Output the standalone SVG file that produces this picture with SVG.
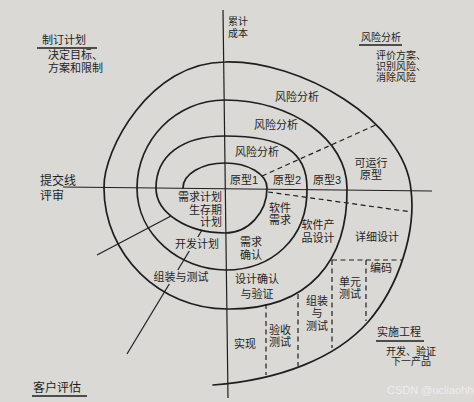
<svg xmlns="http://www.w3.org/2000/svg" width="474" height="402" viewBox="0 0 474 402">
<style>
text{font-family:"Liberation Sans","Noto Sans CJK SC",sans-serif;fill:#1e1e1e;font-size:11px}
.s10{font-size:10px}
.s12{font-size:12px}
.mid{text-anchor:middle}
.end{text-anchor:end}
.ln{fill:none;stroke:#1e1e1e;stroke-width:1.2}
.sp{fill:none;stroke:#1e1e1e;stroke-width:1.7;stroke-linecap:round}
.ds{fill:none;stroke:#1e1e1e;stroke-width:1.2;stroke-dasharray:5 3.5}
.ul{fill:none;stroke:#1e1e1e;stroke-width:1.6}
.wm{font-family:"Liberation Sans",sans-serif;fill:#f2f2f2;font-size:11px;opacity:.85}
</style>
<rect width="474" height="402" fill="#dad9d5"/>
<g id="connectors">
<line class="ln" x1="223" y1="10" x2="228" y2="398"/>
<line class="ln" x1="63" y1="187" x2="432" y2="191"/>
<path class="sp" d="M183,188 A42,25 0 0 1 225,163 A42,25 0 0 1 267,188 A42,45 0 0 1 225,233 A69,45 0 0 1 156,188 C156,155.8 182,136 225,136 C283,136 307,152 307,188 C308,240 270,270 226,270 C180,270 137,235 137,188 C137,140 176,100 225,100 C292,100 347,140 347,188 C348,260 310,310 227,309 C160,309 104,255 104,188 C103,150 150,62 225,62 C300,60 405,120 411,190 C416,230 400,285 368,322 C336,358 280,380 213,385"/>
<line class="ln" x1="97" y1="255" x2="171" y2="216"/>
<line class="ln" x1="202" y1="230" x2="197.8" y2="237"/>
<line class="ln" x1="189.3" y1="251" x2="177.8" y2="270"/>
<line class="ln" x1="169.3" y1="284" x2="127" y2="354"/>
<line class="ds" x1="262" y1="176" x2="378" y2="124"/>
<line class="ds" x1="268" y1="192" x2="412" y2="212"/>
<line class="ds" x1="266" y1="304" x2="266" y2="375"/>
<line class="ds" x1="298" y1="294" x2="298" y2="366"/>
<line class="ds" x1="332" y1="260" x2="332" y2="348"/>
<line class="ds" x1="366" y1="260" x2="366" y2="321"/>
<line class="ds" x1="332" y1="260" x2="402" y2="260"/>
</g>
<g id="plan">
<text x="42" y="44">制订计划</text>
<line class="ul" x1="37" y1="48" x2="97" y2="48"/>
<text x="48" y="59">决定目标、<tspan x="48" dy="13">方案和限制</tspan></text>
</g>
<g id="cost">
<text class="s10" x="228" y="25">累计<tspan x="228" dy="12">成本</tspan></text>
</g>
<g id="risk">
<text class="s10" x="361" y="41">风险分析</text>
<line class="ul" x1="359" y1="45" x2="402" y2="45"/>
<text class="s10" x="376" y="59">评价方案、<tspan x="376" dy="11">识别风险、</tspan><tspan x="376" dy="11">消除风险</tspan></text>
</g>
<g id="review">
<text class="s12" x="40" y="185">提交线<tspan x="40" dy="15">评审</tspan></text>
</g>
<g id="customer">
<text class="s12" x="33" y="392">客户评估</text>
<line class="ul" x1="32" y1="396" x2="87" y2="396"/>
</g>
<g id="engineering">
<text x="377" y="336">实施工程</text>
<line class="ul" x1="376" y1="341" x2="424" y2="341"/>
<text class="s10" x="386" y="355">开发、验证<tspan x="391" dy="10">下一产品</tspan></text>
</g>
<g id="risk1"><text class="mid" x="297" y="101">风险分析</text></g>
<g id="risk2"><text class="mid" x="276" y="129">风险分析</text></g>
<g id="risk3"><text class="mid" x="257" y="156">风险分析</text></g>
<g id="proto1"><text x="230" y="184">原型1</text></g>
<g id="proto2"><text x="273" y="184">原型2</text></g>
<g id="proto3"><text x="313" y="184">原型3</text></g>
<g id="runproto"><text class="mid" x="371" y="167">可运行<tspan x="371" dy="12">原型</tspan></text></g>
<g id="reqplan"><text class="end" x="222" y="201">需求计划<tspan x="222" dy="13">生存期</tspan><tspan x="222" dy="12">计划</tspan></text></g>
<g id="devplan"><text class="mid" x="197" y="248">开发计划</text></g>
<g id="integplan"><text class="mid" x="181" y="281">组装与测试</text></g>
<g id="swreq"><text class="mid" x="280" y="212">软件<tspan x="280" dy="12">需求</tspan></text></g>
<g id="reqval"><text class="mid" x="251" y="246">需求<tspan x="251" dy="13">确认</tspan></text></g>
<g id="prodesign"><text class="mid" x="318" y="229">软件产<tspan x="318" dy="13">品设计</tspan></text></g>
<g id="detail"><text class="mid" x="377" y="241">详细设计</text></g>
<g id="designval"><text class="mid" x="257" y="283">设计确认<tspan x="257" dy="15">与验证</tspan></text></g>
<g id="impl"><text class="mid" x="245" y="348">实现</text></g>
<g id="accept"><text class="mid" x="280" y="334">验收<tspan x="280" dy="12">测试</tspan></text></g>
<g id="integ"><text class="mid" x="317" y="305">组装<tspan x="317" dy="12">与</tspan><tspan x="317" dy="13">测试</tspan></text></g>
<g id="unit"><text class="mid" x="350" y="286">单元<tspan x="350" dy="12">测试</tspan></text></g>
<g id="code"><text class="mid" x="381" y="272">编码</text></g>
<text class="wm" x="387" y="394">CSDN @ucliaohh</text>
</svg>
